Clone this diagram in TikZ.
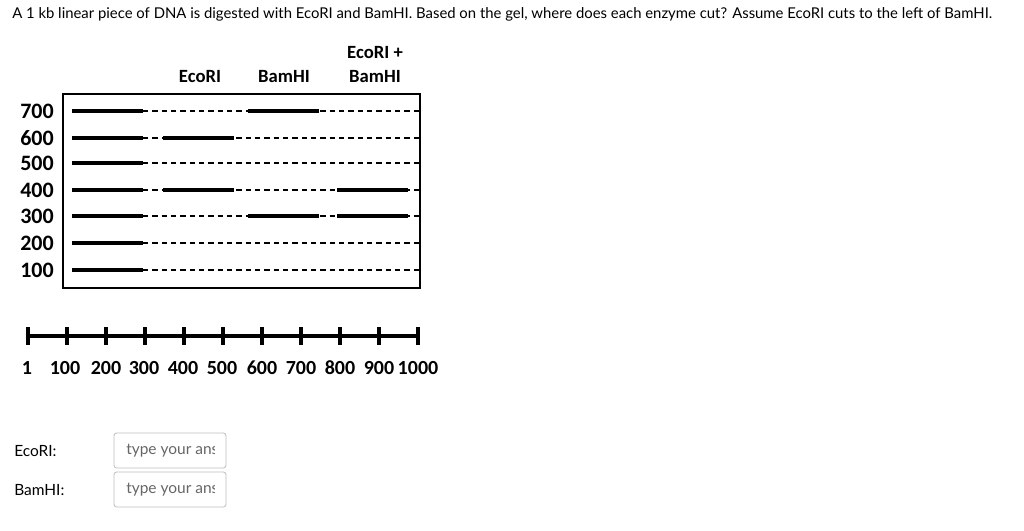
\documentclass[tikz,border=0pt]{standalone}
\usepackage{fontspec}
\setmainfont{Lato}
\newfontfamily\gelfont{Carlito}
\begin{document}
\begin{tikzpicture}[x=0.75pt,y=-0.75pt,
  band/.style={line width=3pt},
  guide/.style={line width=0.9pt,dash pattern=on 4pt off 3pt},
  gl/.style={font=\gelfont\bfseries\fontsize{14}{15}\selectfont,inner sep=0pt},
  ans/.style={draw=black!25,rounded corners=2pt,line width=0.6pt}]
\useasboundingbox (0,0) rectangle (1024,531);
\fill[white] (0,0) rectangle (1024,531);
\node[anchor=west,inner sep=0pt,font=\fontsize{11.15}{13}\selectfont] (q) at (12,14) {A 1 kb linear piece of DNA is digested with EcoRI and BamHI. Based on the gel, where does each enzyme cut? Assume EcoRI cuts to the left of BamHI.};
\node[gl] (h1) at (200,77) {EcoRI};
\node[gl] (h2) at (284,77) {BamHI};
\node[gl] (h3a) at (375,53) {EcoRI +};
\node[gl] (h3b) at (375,77) {BamHI};
\draw[line width=2pt] (63,94) rectangle (420,288);
\foreach \s/\y in {700/111,600/138,500/163,400/190,300/216,200/243,100/270}{
  \node[gl,anchor=east,font=\gelfont\bfseries\fontsize{16.5}{17}\selectfont] at (54,\y) {\s};
  \draw[guide] (143,\y) -- (420,\y);
  \draw[band] (72,\y) -- (143,\y);
}
\foreach \x/\y in {163/138,163/190,248/111,248/216,337/190,337/216}{
  \draw[band] (\x,\y) -- (\x+71,\y);
}
\draw[line width=3pt] (28,336) -- (418,336);
\foreach \i in {0,...,10}{\draw[line width=3pt] (28+\i*39,327) -- (28+\i*39,345);}
\node[gl,font=\gelfont\bfseries\fontsize{15}{16}\selectfont] at (27,368) {1};
\foreach \v/\x in {100/65,200/106,300/144,400/183,500/222,600/262,700/301,800/340,900/379,1000/418}{
  \node[gl,font=\gelfont\bfseries\fontsize{15}{16}\selectfont] at (\x,368) {\v};}
\node[anchor=west,inner sep=0pt,font=\fontsize{11.6}{13}\selectfont] (e) at (14,451) {EcoRI:};
\node[anchor=west,inner sep=0pt,font=\fontsize{11.6}{13}\selectfont] (b) at (14,490) {BamHI:};
\draw[ans] (114,433) rectangle (226,468);
\draw[ans] (114,472) rectangle (226,507);
\begin{scope}
\clip (114,430) rectangle (214,510);
\node[anchor=west,inner sep=0pt,text=black!60,font=\fontsize{11.6}{13}\selectfont] at (126,451) {type your answer};
\node[anchor=west,inner sep=0pt,text=black!60,font=\fontsize{11.6}{13}\selectfont] at (126,490) {type your answer};
\end{scope}
\end{tikzpicture}
\end{document}
